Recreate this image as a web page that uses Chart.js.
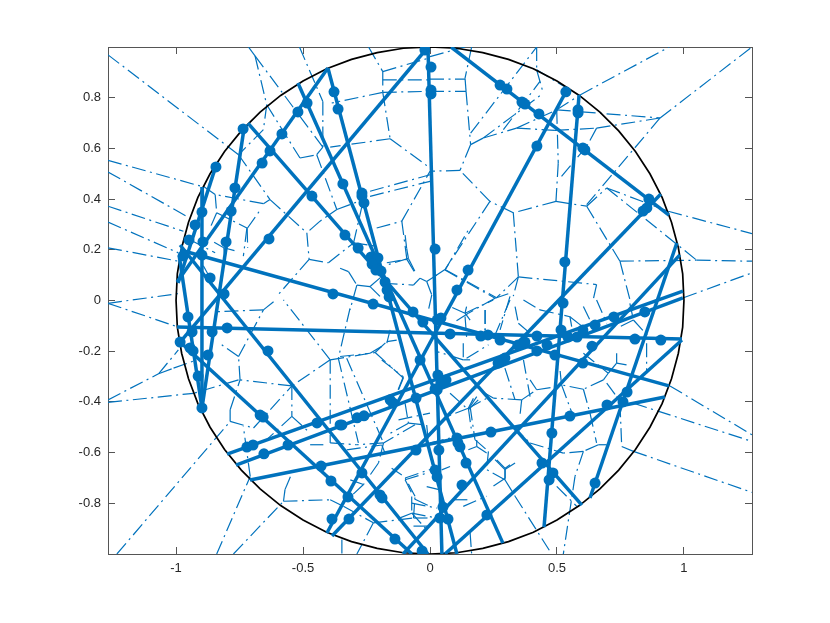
<!DOCTYPE html>
<html>
<head>
<meta charset="utf-8">
<title>chords</title>
<script src="https://cdn.jsdelivr.net/npm/chart.js@4"></script>
<style>
body{margin:0;background:#fff}
</style>
</head>
<body>
<canvas id="mycanvas" width="830" height="623"></canvas>
<script>
var xTicks = [-1,-0.5,0,0.5,1];
var yTicks = [-0.8,-0.6,-0.4,-0.2,0,0.2,0.4,0.6,0.8];

// unit circle, read round the outline
var circleX = [1,.995,.978,.951,.914,.866,.809,.743,.669,.588,.5,.407,.309,.208,.105,0,-.105,-.208,-.309,-.407,-.5,-.588,-.669,-.743,-.809,-.866,-.914,-.951,-.978,-.995,-1,-.995,-.978,-.951,-.914,-.866,-.809,-.743,-.669,-.588,-.5,-.407,-.309,-.208,-.105,0,.105,.208,.309,.407,.5,.588,.669,.743,.809,.866,.914,.951,.978,.995,1];
var circleY = [0,.105,.208,.309,.407,.5,.588,.669,.743,.809,.866,.914,.951,.978,.995,1,.995,.978,.951,.914,.866,.809,.743,.669,.588,.5,.407,.309,.208,.105,0,-.105,-.208,-.309,-.407,-.5,-.588,-.669,-.743,-.809,-.866,-.914,-.951,-.978,-.995,-1,-.995,-.978,-.951,-.914,-.866,-.809,-.743,-.669,-.588,-.5,-.407,-.309,-.208,-.105,0];

// thick chords: x1,y1,x2,y2
var chords = [
[.083,1,.941,.337],[-.008,1,-.984,-.164],[-.402,.917,-.996,.073],[-.732,.681,-.898,-.424],
[-.843,.531,-.992,.069],[-.898,.448,-.898,-.424],[-.984,.199,.941,-.337],[-.996,-.105,.992,-.152],
[-.008,1,.047,-1],[.587,.811,.449,-.894],[.535,.823,-.406,-.917],[.909,.420,-.386,-.929],
[.972,.227,.630,-.779],[.984,.180,-.106,-1],[.992,-.156,.059,-1],[.996,.037,-.799,-.606],
[.996,.010,-.764,-.649],[-.709,-.708,.925,-.381],[-.520,.858,.287,-.957],[-.402,.917,.106,-1],
[-.717,.700,.598,-.807],[-.984,.219,-.008,-1],[-.984,-.164,-.071,-1],[-.988,.179,-.898,-.424]
];

var siteX = [-.020,.004,.004,.004,.020,.276,.303,.362,.374,.429,.602,.610,.862,.535,.583,.583,.421,.150,.106,.839,.854,.531,
-.378,-.362,-.484,-.520,-.583,-.630,-.661,-.736,-.843,-.465,-.634,-.343,-.268,-.268,-.260,-.768,-.783,-.803,-.898,-.925,-.949,-.972,-.894,-.898,-.866,-.811,
-.335,-.283,-.232,-.205,-.228,-.213,-.193,-.177,-.169,-.161,-.224,-.382,-.067,-.028,.028,.043,.079,.200,.228,.276,
.524,.421,.516,.543,.579,.602,.650,.724,.846,.807,.909,.638,.602,.492,.421,.461,.346,.295,.276,.374,.268,
.776,.760,.697,.551,.240,.480,.441,.484,.469,.650,.126,.142,.110,.106,.224,.035,.020,.028,.051,.039,.071,
.031,.063,.051,.020,.028,-.157,-.146,-.055,-.287,-.260,-.347,-.055,.118,-.268,-.197,-.189,-.323,-.319,-.138,-.031,
-.638,-.445,-.354,-.559,-.654,-.721,-.697,-.669,-.657,-.429,-.390,-.386,-.039,-.799,-.858,-.937,-.953,-.984,-.945,-.933,-.874,-.913,-.898];
var siteY = [.988,.921,.830,.815,.203,.850,.834,.783,.775,.736,.602,.594,.400,.823,.752,.740,.609,.120,.041,.353,.365,.152,
.823,.755,.779,.744,.657,.590,.542,.677,.527,.412,.243,.460,.424,.412,.385,.444,.353,.231,.349,.298,.239,.176,.231,.179,.089,.026,
.258,.207,.172,.168,.144,.120,.116,.073,.041,.014,-.014,.026,-.045,-.085,-.077,-.069,-.132,-.140,-.136,-.156,
-.010,-.140,-.116,-.144,-.144,-.116,-.097,-.065,-.045,-.152,-.156,-.180,-.247,-.215,-.199,-.176,-.176,-.227,-.243,-.164,-.247,
-.361,-.400,-.412,-.456,-.519,-.523,-.641,-.680,-.708,-.720,-.728,-.641,-.562,-.542,-.846,-.590,-.669,-.696,-.815,-.858,-.862,
-.294,-.314,-.325,-.349,-.353,-.392,-.404,-.385,-.463,-.455,-.491,-.590,-.577,-.680,-.767,-.779,-.775,-.862,-.941,-.988,
-.199,-.483,-.491,-.570,-.605,-.578,-.570,-.452,-.460,-.653,-.712,-.862,-.235,-.108,-.124,-.124,-.065,-.164,-.187,-.199,-.215,-.298,-.424];

// thin dash-dot edges: x1,y1,x2,y2
var edges = [
// rays
[-1.268,.969,-.754,.575],[-1.268,.553,-.899,.450],[-1.268,.507,-.958,.332],[-1.268,.372,-.971,.273],[-1.268,.309,-.991,.188],[-1.268,.208,-.991,.155],
[-1.268,-.011,-.997,-.103],[-1.268,-.011,-.984,.028],[-1.268,-.392,-1.069,-.289],[-1.268,-.402,-.931,-.366],[-1.233,-1,-.787,-.477],[-.840,-1,-.708,-.694],[-.774,-1,-.577,-.792],
// upper left
[-.715,1,-.689,.965],[-.689,.965,-.643,.772],[-.689,.965,-.422,.605],[-.514,1,-.422,.785],[-.422,.785,-.422,.605],[-.242,1,-.186,.903],[-.186,.903,-.186,.821],
[-.186,.870,-.006,.870],[-.186,.903,-.006,.956],[-.186,.821,-.006,.825],[-.186,.821,-.387,.779],[-.186,.821,-.157,.638],[-.157,.638,-.393,.605],[-.157,.638,0,.523],
[-.643,.772,-.656,.674],[-.643,.772,-.512,.562],[-.656,.674,-.754,.575],[-.754,.575,-.630,.398],[-.630,.398,-.656,.382],[-.630,.398,-.485,.267],[-.656,.382,-.846,.418],
[-.846,.418,-.840,.346],[-.846,.418,-.892,.450],[-.892,.450,-.892,.385],[-.840,.346,-.721,.286],[-.840,.346,-.866,.286],[-.721,.286,-.735,.175],[-.512,.562,-.446,.575],
[-.446,.575,-.422,.605],[-.446,.575,-.367,.359],[-.367,.359,-.433,.313],[-.367,.359,-.262,.398],[-.433,.313,-.485,.267],[-.485,.267,-.476,.162],[-.476,.162,-.603,.017],
[-.476,.162,-.400,.149],[-.400,.149,-.301,.227],[-.301,.227,-.210,.214],[-.301,.227,-.262,.398],[-.236,.431,0,.496],[-.236,.411,0,.470],[-.210,.286,-.111,.313],
[-.111,.313,-.091,.162],[-.111,.313,0,.510],[-.091,.162,-.059,.109],[-.170,.149,-.091,.162],[-.945,.240,-.846,.188],
[-.866,.089,-.894,.140],[-.812,.208,-.850,.230],[-.812,.208,-.808,.166],[-.812,.208,-.770,.197],[-.720,.284,-.670,.355],[-.720,.284,-.718,.208],
// upper right
[.164,1,.138,.877],[0,.962,.138,1],[0,.873,.138,.873],[0,.825,.142,.825],[.138,.877,.142,.825],[.142,.825,.160,.615],[.160,.660,.420,1],[.160,.615,.118,.513],
[.160,.615,.210,.641],[.210,.641,.446,.818],[.289,.674,.433,.864],[.341,.680,.499,.752],[.420,1,.420,.910],[.420,.910,.446,.818],[.420,.910,.538,.838],[.210,.641,.341,.680],
[.341,.680,.492,.671],[.492,.671,.656,.680],[.656,.680,.906,.720],[.656,.680,.617,.608],[.499,.752,.906,.720],[.499,.752,.591,.811],[.591,.811,.942,1],[.906,.720,1.268,1],
[.906,.720,.617,.378],[.499,.752,.505,.542],[.505,.542,.496,.391],[.496,.391,.328,.346],[.496,.391,.617,.372],[.617,.372,.696,.444],[.696,.444,.938,.352],[.938,.352,1.268,.264],
[.617,.372,.748,.155],[.748,.155,1.05,.159],[1.05,.159,1.268,.155],[.696,.444,1.05,.159],[.748,.155,.787,.004],[.328,.346,.236,.391],[.236,.391,.118,.513],[.118,.513,0,.510],
[.328,.346,.348,.093],[.236,.391,.059,.122],[.059,.122,.262,.011],[.059,.122,0,.083],[.348,.093,.262,.011],[.348,.093,.656,.063],[.656,.063,.643,.004],[.348,.093,.328,.017],
[.998,.011,1.268,.109],[.518,.490,.617,.608],
// centre
[-.354,.127,-.321,.114],[-.321,.114,-.288,.061],[-.288,.061,-.315,-.037],[-.288,.061,-.236,.055],[-.236,.055,-.183,.101],[-.236,.055,-.197,.016],[-.183,.068,-.065,.061],
[-.065,.061,-.039,.088],[-.039,.088,-.013,.075],[-.013,.075,.027,.101],[-.013,.075,.007,.022],[.007,.022,-.006,-.037],[-.092,.206,-.085,.166],[-.085,.166,-.052,.101],
[-.085,.166,-.170,.140],[-.098,.258,-.092,.206],[.059,.120,.151,.278],[.059,.120,.256,.009],[.256,.009,.151,-.050],[.151,-.050,.099,-.083],[.217,-.037,.217,-.116],
[.256,.009,.315,.029],[.315,.016,.276,-.116],[.138,-.063,.145,-.155],[-.170,-.168,-.157,-.116],[-.354,-.221,-.236,-.208],[-.236,-.208,-.190,-.181],
// lower left
[-.754,-.313,-.931,-.366],[-1.069,-.289,-.991,-.195],[-1.069,-.289,-1.010,-.267],[-1.010,-.267,-.918,-.234],[-.787,-.477,-.787,-.431],[-.787,-.431,-.748,-.313],[-.787,-.477,-.695,-.503],
[-.695,-.503,-.544,-.337],[-.544,-.337,-.748,-.313],[-.748,-.313,-.754,-.221],[-.754,-.221,-.820,-.175],[-.754,-.221,-.656,-.037],[-.577,-.792,-.571,-.746],[-.577,-.792,-.393,-.786],
[-.571,-.746,-.544,-.681],[-.708,-.694,-.735,-.497],[-.544,-.337,-.544,-.457],[-.544,-.457,-.643,-.549],[-.544,-.457,-.472,-.523],[-.472,-.569,-.420,-.569],[-.656,-.037,-.840,-.044],
[-.656,-.037,-.616,-.005],[-.393,-.234,-.544,-.337],[-.393,-.234,-.216,-.205],[-.216,-.205,-.170,-.162],[-.170,-.162,-.131,-.156],[-.216,-.205,-.105,-.306],[-.393,-.234,-.393,-.562],
[-.393,-.562,-.288,-.569],[-.361,-.228,-.282,-.562],[-.328,-.228,-.183,-.562],[-.183,-.562,-.288,-.569],[-.393,-.234,-.577,.002],[-.315,-.031,-.361,-.228],[-.105,-.306,-.124,-.352],
[-.124,-.471,0,-.444],[-.059,-.490,-.183,-.562],[-.183,-.562,-.203,-.641],[-.203,-.641,-.262,-.726],[-.262,-.726,-.315,-.707],[-.262,-.726,-.354,-.812],[-.393,-.786,-.341,-.812],
[-.341,-.812,-.223,-.877],[-.223,-.877,-.288,-1],[-.347,-.943,-.347,-1],[-.223,-.877,-.065,-.858],[-.065,-.858,-.059,-.772],[-.059,-.772,-.098,-.700],[-.059,-.784,0,-.812],
[-.098,-.700,0,-.667],[-.065,-.858,0,-.858],[-.065,-.890,0,-.890],
// lower middle
[-.190,-.235,-.105,-.301],[-.105,-.301,-.131,-.366],[-.098,-.406,-.085,-.484],[-.085,-.484,-.157,-.524],[-.085,-.484,-.019,-.491],[-.013,-.491,-.006,-.563],[-.328,-.589,-.190,-.570],
[-.190,-.570,-.177,-.602],[-.151,-.662,-.111,-.688],[-.098,-.707,-.013,-.681],[-.098,-.707,-.072,-.760],[-.072,-.773,-.072,-.839],[-.072,-.799,.027,-.819],[-.072,-.839,-.137,-.865],
[-.072,-.839,.027,-.858],[-.072,-.839,-.006,-.911],[.151,-.425,.171,-.386],[.151,-.425,.223,-.386],[.151,-.425,.164,-.517],[.151,-.425,.066,-.458],[.296,-.662,.263,-.629],
[.296,-.662,.315,-.648],[.296,-.701,.296,-.662],[.296,-.701,.237,-.740],[.184,-.576,.223,-.602],[.184,-.576,.151,-.589],[.184,-.550,.184,-.576],[.092,-.786,.164,-.786],
[-.013,-.734,.040,-.747],[.046,-.668,.079,-.655],
// lower right
[.138,-.050,.079,-.024],[.138,-.050,.144,-.024],[.138,-.050,.158,-.077],[.138,-.050,.249,.002],[.217,-.037,.217,-.129],[.315,.002,.256,-.136],[.335,-.024,.348,-.090],[.348,-.090,.394,-.129],
[.368,.002,.433,-.037],[.433,-.037,.551,-.064],[.551,-.064,.617,-.116],[.551,-.064,.558,-.103],[.604,-.024,.630,-.077],[.656,.002,.696,-.090],[.787,-.011,.801,-.077],[.801,-.077,.748,-.103],
[.801,-.077,.860,-.142],[.853,-.169,.853,-.287],[.735,-.247,.774,-.254],[.735,-.247,.702,-.287],[.735,-.208,.735,-.247],[.604,-.208,.702,-.287],[.702,-.287,.683,-.313],[.683,-.313,.604,-.350],
[.604,-.350,.518,-.333],[.518,-.333,.512,-.274],[.518,-.333,.564,-.457],[.604,-.350,.630,-.444],[.630,-.444,.656,-.562],[.696,-.326,.735,-.379],[.735,-.379,.748,-.405],[.748,-.405,.755,-.576],
[.755,-.576,.801,-.595],[.801,-.595,1.268,-.757],[.801,-.405,1.268,-.556],[.945,-.337,1.268,-.530],[.663,-.569,.604,-.595],[.663,-.569,.696,-.569],[.604,-.595,.525,-.602],[.604,-.595,.571,-.694],
[.571,-.694,.525,-1],[.499,-.733,.578,-.812],[.394,-.562,.525,-.602],[.328,-.497,.394,-.562],[.361,-.392,.354,-.457],[.361,-.392,.249,-.385],[.361,-.392,.420,-.352],[.420,-.352,.505,-.339],
[.249,-.385,.184,-.346],[.158,-.418,.184,-.379],[.158,-.418,.177,-.549],[.177,-.549,.230,-.595],[.230,-.595,.223,-.667],[.295,-.667,.256,-.628],[.295,-.667,.335,-.641],[.295,-.667,.295,-.707],
[.295,-.707,.223,-.667],[.295,-.707,.335,-.772],[.335,-.772,.479,-1],[.158,-.917,.164,-1],[.131,-.812,.223,-.772],[.131,-.234,.026,-.201],[.131,-.234,.158,-.234],[.131,-.169,.131,-.234],
[.144,-.228,.230,-.175],[.368,-.234,.394,-.379],[.295,-.267,.335,-.392],[.394,-.313,.420,-.352],[.190,-.392,.151,-.431],[.079,-.366,.151,-.431],[0,-.562,.105,-.536]
];

var blue = '#0072BD';
var datasets = [];

datasets.push({
	data: siteX.map(function(v,i){ return {x:v,y:siteY[i]}; }),
	showLine:false, pointRadius:5.5, pointBackgroundColor:blue, pointBorderWidth:0, order:0
});
chords.forEach(function(c){
	datasets.push({
		data:[{x:c[0],y:c[1]},{x:c[2],y:c[3]}],
		showLine:true, borderColor:blue, borderWidth:3.5, pointRadius:0, order:1
	});
});
datasets.push({
	data: circleX.map(function(v,i){ return {x:v,y:circleY[i]}; }),
	showLine:true, borderColor:'#000', borderWidth:1.7, pointRadius:0, order:2
});
edges.forEach(function(c){
	datasets.push({
		data:[{x:c[0],y:c[1]},{x:c[2],y:c[3]}],
		showLine:true, borderColor:blue, borderWidth:1.2, borderDash:[14,4.5,2,4.5], pointRadius:0, order:3
	});
});

function axis(pos, ticksList, labels){
	return {
		type:'linear', position:pos,
		min: (pos=='bottom'||pos=='top') ? -1.268 : -1,
		max: (pos=='bottom'||pos=='top') ? 1.268 : 1,
		afterBuildTicks:function(s){ s.ticks = ticksList.map(function(v){ return {value:v}; }); },
		afterFit:function(s){
			if(pos=='bottom') s.height = 69;
			if(pos=='left') s.width = 108;
			if(pos=='top') s.height = 0;
			if(pos=='right') s.width = 0;
		},
		border:{display:true,color:'#555',width:1},
		grid:{drawOnChartArea:false,drawTicks:true,tickLength:-7,tickColor:'#555',tickWidth:1},
		ticks:{
			display:labels, autoSkip:false, maxRotation:0, padding:14,
			color:'#262626', font:{family:'Liberation Sans',size:13},
			callback:function(v){ return String(v); }
		}
	};
}

var ctx = document.getElementById("mycanvas");
var chart = new Chart(ctx,{
	type:'scatter',
	data:{datasets:datasets},
	options:{
		responsive:false,
		animation:false,
		layout:{padding:{top:47,right:78,left:0,bottom:0}},
		plugins:{legend:{display:false},title:{display:false},tooltip:{enabled:false}},
		scales:{
			x:axis('bottom',xTicks,true),
			y:axis('left',yTicks,true),
			x2:axis('top',xTicks,false),
			y2:axis('right',yTicks,false)
		}
	}
});
</script>
</body>
</html>
